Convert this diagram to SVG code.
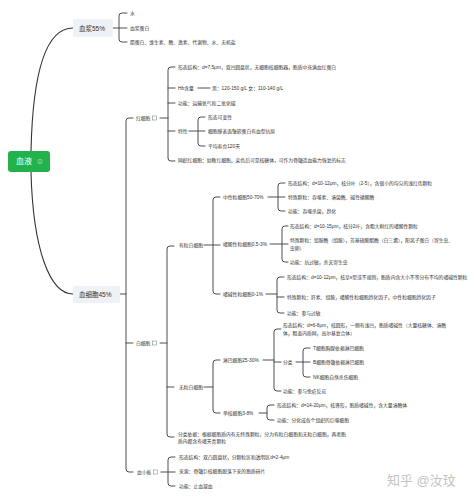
<svg xmlns="http://www.w3.org/2000/svg" width="474" height="500" viewBox="0 0 474 500">
<style>
.t{font-family:'Liberation Sans','Noto Sans CJK SC',sans-serif;font-size:4.8px;fill:#333;dominant-baseline:central}
.b{font-family:'Liberation Sans','Noto Sans CJK SC',sans-serif;font-size:6.5px;fill:#333;dominant-baseline:central}
.ln{fill:none;stroke:#3a3a3a;stroke-width:0.9;stroke-linecap:round}
.cv{fill:none;stroke:#333;stroke-width:1.1}
.box{fill:#eef1f5}
.ic{fill:none;stroke:#888;stroke-width:0.6}
</style>
<rect width="474" height="500" fill="#ffffff"/>
<g id="connectors">
<path class="cv" d="M31,151 C33,60 50,28 73,28"/>
<path class="cv" d="M31,172 C33,250 50,294 73,294"/>
<path class="ln" d="M113,28 H127 M127,13 H122 Q119,13 119,16 V39 Q119,42 122,42 H127"/>
<path class="ln" d="M120,294 H126 M133,118 H129 Q126,118 126,121 V469 Q126,472 129,472 H133 M126,343 H133"/>
<path class="ln" d="M160,118 H168 M175,67 H171 Q168,67 168,70 V158 Q168,161 171,161 H175 M168,88 H175 M168,103 H175 M168,131 H175"/>
<path class="ln" d="M198,88 H210"/>
<path class="ln" d="M189,131 H205 M205,117 H201 Q198,117 198,120 V143 Q198,146 201,146 H205"/>
<path class="ln" d="M160,343 H167 M174,246 H170 Q167,246 167,249 V434 Q167,437 170,437 H174 M167,387 H174"/>
<path class="ln" d="M204,245 H220 M220,197 H216 Q213,197 213,200 V291 Q213,294 216,294 H220"/>
<path class="ln" d="M268,197 H285 M285,183 H281 Q278,183 278,186 V208 Q278,211 281,211 H285"/>
<path class="ln" d="M270,244 H288 M288,226 H285 Q282,226 282,229 V259 Q282,262 285,262 H288"/>
<path class="ln" d="M266,294 H277 M284,277 H280 Q277,277 277,280 V310 Q277,313 280,313 H284 M277,297 H284"/>
<path class="ln" d="M204,387 H213 M220,360 H216 Q213,360 213,363 V410 Q213,413 216,413 H220"/>
<path class="ln" d="M263,360 H274 M281,329 H277 Q274,329 274,332 V388 Q274,391 277,391 H281 M274,362 H281"/>
<path class="ln" d="M296,362 H310 M310,348 H306 Q303,348 303,351 V374 Q303,377 306,377 H310"/>
<path class="ln" d="M259,413 H267 M274,405 H270 Q267,405 267,408 V417 Q267,420 270,420 H274"/>
<path class="ln" d="M161,472 H175 M175,457 H171 Q168,457 168,460 V483 Q168,486 171,486 H175"/>
</g>
<g id="n-blood">
<rect x="8" y="151" width="42" height="21" rx="3" fill="#21b24b"/>
<text x="16" y="161.5" style="font-family:'Liberation Sans','Noto Sans CJK SC',sans-serif;font-size:8px;fill:#ffffff;dominant-baseline:central">血液</text>
<rect x="38" y="159.5" width="4" height="4" rx="1" fill="none" stroke="#a6e0b6" stroke-width="0.6"/>
<path d="M39,161 H41 M39,162.3 H41" stroke="#a6e0b6" stroke-width="0.5"/>
</g>
<g id="n-plasma">
<rect class="box" x="73" y="19" width="40" height="18" rx="2"/>
<text class="b" x="79" y="28">血浆55%</text>
</g>
<g id="n-water"><text class="t" x="130" y="13">水</text></g>
<g id="n-protein"><text class="t" x="130" y="28">血浆蛋白</text></g>
<g id="n-other"><text class="t" x="130" y="42.5">脂蛋白、维生素、酶、激素、代谢物、水、无机盐</text></g>
<g id="n-cells">
<rect class="box" x="73" y="286" width="47" height="17" rx="2"/>
<text class="b" x="79" y="294.5">血细胞45%</text>
</g>
<g id="n-rbc">
<text class="t" x="136" y="118">红细胞</text>
<rect class="ic" x="152.5" y="116" width="4" height="4"/>
</g>
<g id="n-rbc-shape"><text class="t" x="178" y="67">形态结构：d=7.5μm，双凹圆盘状，无细胞核细胞器，胞质中充满血红蛋白</text></g>
<g id="n-hb"><text class="t" x="178" y="88">Hb含量</text></g>
<g id="n-hb-val"><text class="t" x="212" y="88">男：120-150 g/L  女：110-140 g/L</text></g>
<g id="n-rbc-func"><text class="t" x="178" y="103">功能：运输氧气和二氧化碳</text></g>
<g id="n-rbc-prop"><text class="t" x="178" y="131">特性</text></g>
<g id="n-prop1"><text class="t" x="208" y="117">形态可变性</text></g>
<g id="n-prop2"><text class="t" x="208" y="131">细胞膜表面镶嵌蛋白有血型抗原</text></g>
<g id="n-prop3"><text class="t" x="208" y="146">平均寿命120天</text></g>
<g id="n-retic"><text class="t" x="178" y="160.5">网织红细胞：幼稚红细胞，染色后可见核糖体，可作为骨髓造血能力恢复的标志</text></g>
<g id="n-wbc">
<text class="t" x="136" y="343">白细胞</text>
<rect class="ic" x="152.5" y="341" width="4" height="4"/>
</g>
<g id="n-gran"><text class="t" x="179" y="245">有粒白细胞</text></g>
<g id="n-neut"><text class="t" x="223" y="197">中性粒细胞50-70%</text></g>
<g id="n-neut1"><text class="t" x="288" y="183">形态结构：d=10-12μm，核分叶（2-5），含很小的均匀的浅红色颗粒</text></g>
<g id="n-neut2"><text class="t" x="288" y="197.5">特殊颗粒：吞噬素、溶菌酶、碱性磷酸酶</text></g>
<g id="n-neut3"><text class="t" x="288" y="211">功能：吞噬杀菌，趋化</text></g>
<g id="n-eos"><text class="t" x="223" y="244.5">嗜酸性粒细胞0.5-3%</text></g>
<g id="n-eos1"><text class="t" x="290" y="226">形态结构：d=10-15μm，核分2叶，含粗大鲜红的嗜酸性颗粒</text></g>
<g id="n-eos2"><text class="t" x="290" y="240.5">特殊颗粒：组胺酶（组胺），芳基硫酸酯酶（白三烯），阳离子蛋白（寄生虫、</text><text class="t" x="290" y="248">虫卵）</text></g>
<g id="n-eos3"><text class="t" x="290" y="262.5">功能：抗过敏，杀灭寄生虫</text></g>
<g id="n-baso"><text class="t" x="223" y="294">嗜碱性粒细胞0-1%</text></g>
<g id="n-baso1"><text class="t" x="287" y="277">形态结构：d=10-12μm，核呈s型或不规则，胞质内含大小不等分布不均的嗜碱性颗粒</text></g>
<g id="n-baso2"><text class="t" x="287" y="297">特殊颗粒：肝素、组胺，嗜酸性粒细胞趋化因子，中性粒细胞趋化因子</text></g>
<g id="n-baso3"><text class="t" x="287" y="313">功能：参与过敏</text></g>
<g id="n-agran"><text class="t" x="179" y="387">无粒白细胞</text></g>
<g id="n-lymph"><text class="t" x="223" y="360">淋巴细胞25-30%</text></g>
<g id="n-lymph1"><text class="t" x="283" y="325.5">形态结构：d=6-8μm，核圆形，一侧有浅凹，胞质嗜碱性（大量核糖体、溶酶</text><text class="t" x="283" y="333">体，粗面内质网，高尔基复合体）</text></g>
<g id="n-lymph2"><text class="t" x="283" y="362">分类</text></g>
<g id="n-t"><text class="t" x="313" y="348">T细胞胸腺依赖淋巴细胞</text></g>
<g id="n-b"><text class="t" x="313" y="362">B细胞骨髓依赖淋巴细胞</text></g>
<g id="n-nk"><text class="t" x="313" y="377">NK细胞自然杀伤细胞</text></g>
<g id="n-lymph3"><text class="t" x="283" y="391.5">功能：参与免疫反应</text></g>
<g id="n-mono"><text class="t" x="223" y="413">单核细胞3-8%</text></g>
<g id="n-mono1"><text class="t" x="277" y="405">形态结构：d=14-20μm，核肾形，胞质嗜碱性，含大量溶酶体</text></g>
<g id="n-mono2"><text class="t" x="277" y="420">功能：分化成各个组织的巨噬细胞</text></g>
<g id="n-wbc-class"><text class="t" x="178" y="434.5">分类依据：根据细胞质内有无特殊颗粒，分为有粒白细胞和无粒白细胞，两者胞</text><text class="t" x="178" y="441">质内都含有嗜天青颗粒</text></g>
<g id="n-plt">
<text class="t" x="137" y="472">血小板</text>
<rect class="ic" x="153.5" y="470" width="4" height="4"/>
</g>
<g id="n-plt1"><text class="t" x="179" y="457">形态结构：双凸圆盘状，分颗粒区和透明区d=2-4μm</text></g>
<g id="n-plt2"><text class="t" x="179" y="471.5">来源：骨髓巨核细胞脱落下来的胞质碎片</text></g>
<g id="n-plt3"><text class="t" x="179" y="486">功能：止血凝血</text></g>
<text x="387" y="480" style="font-family:'Liberation Sans','Noto Sans CJK SC',sans-serif;font-size:13px;fill:#c4c4c4;dominant-baseline:central">知乎 @汝玟</text>
</svg>
